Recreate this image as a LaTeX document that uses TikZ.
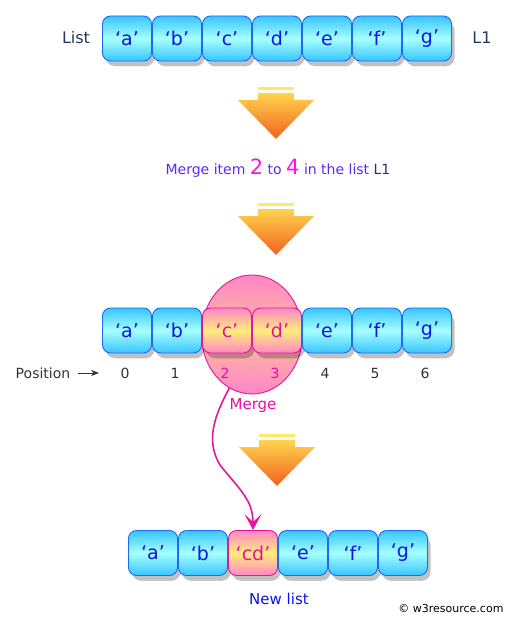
\documentclass[tikz,border=0pt]{standalone}
\usepackage{fontspec}
\setmainfont{DejaVu Sans}
\usepackage{tikz}
\usetikzlibrary{arrows.meta,shapes.geometric}
\definecolor{ListNavy}{HTML}{1F3864}
\definecolor{BoxLine}{HTML}{1A6CF5}
\definecolor{BoxTop}{HTML}{38C4FF}
\definecolor{BoxMid}{HTML}{A6FFFF}
\definecolor{BoxText}{HTML}{0A14E6}
\definecolor{MergeLine}{HTML}{E0189C}
\definecolor{MergePink}{HTML}{FF86C6}
\definecolor{MergeYellow}{HTML}{FFEE78}
\definecolor{MergePeach}{HTML}{FFBE9C}
\definecolor{MergeText}{HTML}{E80CA8}
\definecolor{NoteViolet}{HTML}{5A28F5}
\definecolor{NoteMagenta}{HTML}{FF10F0}
\definecolor{ArrowBar}{HTML}{FFE866}
\definecolor{ArrowTop}{HTML}{FFD44E}
\definecolor{ArrowBottom}{HTML}{F2621E}
\definecolor{PosGray}{HTML}{333333}
\tikzset{
  item/.style={draw=BoxLine,rounded corners=8pt,line width=0.9pt,
    minimum width=49pt,minimum height=45pt,inner sep=0pt,
    top color=BoxTop,bottom color=BoxTop,middle color=BoxMid,
    text=BoxText,font=\fontsize{19}{19}\selectfont},
  picked/.style={item,draw=MergeLine,top color=MergePink,bottom color=MergePink,
    middle color=MergeYellow,text=MergeText},
  boxshade/.style={fill=black,opacity=0.13,rounded corners=9pt},
  tag/.style={text=ListNavy,font=\fontsize{16}{16}\selectfont},
  posnum/.style={text=PosGray,font=\fontsize{14}{14}\selectfont},
  flowdown/.pic={
    \fill[ArrowBar] (-18,0) rectangle (18,3);
    \shade[top color=ArrowTop,bottom color=ArrowBottom]
      (-18,6) -- (18,6) -- (18,13) -- (38,13) -- (0,52) -- (-38,13) -- (-18,13) -- cycle;
  }
}
% soft shadow under a cell centred at (#1,#2)
\newcommand\cellshade[2]{%
  \fill[boxshade] (#1-21.5,#2-17.5) rectangle ++(49,45);
  \fill[boxshade] (#1-20.5,#2-16) rectangle ++(48,44);}
\begin{document}
\begin{tikzpicture}[x=1pt,y=-1pt]
  \useasboundingbox (0,0) rectangle (516,623);
  % original list
  \node[tag] (listlbl) at (76,38) {List};
  \foreach \ch [count=\i from 0] in {a,b,c,d,e,f,g}{
    \cellshade{127+50*\i}{38.5}
    \node[item] (t\i) at (127+50*\i,38.5) {‘\ch’};
  }
  \node[tag] (lone) at (482,38) {L1};
  \pic at (276,87) {flowdown};
  \node[text=NoteViolet,font=\fontsize{14}{14}\selectfont] (note) at (278,168)
    {Merge item {\color{NoteMagenta}\fontsize{21}{21}\selectfont 2} to
     {\color{NoteMagenta}\fontsize{21}{21}\selectfont 4} in the list {\color{ListNavy}L1}};
  \pic at (276,203) {flowdown};
  % merge step
  \node[ellipse,draw=MergeLine,line width=0.9pt,minimum width=101pt,minimum height=119pt,
    top color=MergePink,bottom color=MergePink,middle color=MergePeach] (zone) at (252,334.5) {};
  \foreach \ch [count=\i from 0] in {a,b,c,d,e,f,g}{
    \ifnum\i=2 \def\kind{picked}\else\ifnum\i=3 \def\kind{picked}\else\def\kind{item}\fi\fi
    \cellshade{127+50*\i}{330.5}
    \node[\kind] (m\i) at (127+50*\i,330.5) {‘\ch’};
  }
  \node[text=PosGray,font=\fontsize{14}{14}\selectfont] (pos) at (43,373) {Position};
  \coordinate (posend) at (99,373);
  \path (pos.east) ++(4,0) coordinate (posstart);
  \draw[-{Stealth[length=8pt,width=6pt,inset=2.5pt]},PosGray,line width=0.8pt] (posstart) -- (posend);
  \foreach \i in {0,...,6}{
    \ifnum\i=2 \def\numcol{MergeText}\else\ifnum\i=3 \def\numcol{MergeText}\else\def\numcol{PosGray}\fi\fi
    \node[posnum,text=\numcol] (p\i) at (125+50*\i,373) {\i};
  }
  \node[text=MergeText,font=\fontsize{15}{15}\selectfont] (mergelbl) at (253,406) {Merge};
  \pic at (277,434) {flowdown};
  % new list
  \foreach \ch [count=\i from 0] in {a,b,cd,e,f,g}{
    \ifnum\i=2 \def\kind{picked}\else\def\kind{item}\fi
    \cellshade{153+50*\i}{553}
    \node[\kind] (n\i) at (153+50*\i,553) {‘\ch’};
  }
  \draw[MergeLine,line width=1.6pt,-{Stealth[length=16pt,width=17pt,inset=8pt]}]
    (zone.247) .. controls (215,415) and (205,440) .. (220,465)
    .. controls (240,490) and (253,500) .. (n2.north);
  \node[text=BoxText,font=\fontsize{15}{15}\selectfont] (newlbl) at (279,599) {New list};
  \node[anchor=east,font=\fontsize{11}{11}\selectfont] (credit) at (507,608) {\textcopyright\ w3resource.com};
\end{tikzpicture}
\end{document}
